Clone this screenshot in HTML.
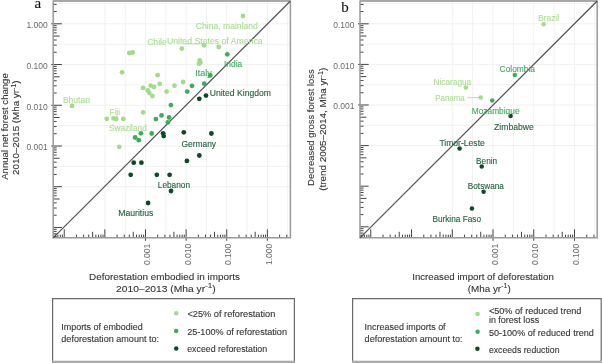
<!DOCTYPE html>
<html><head><meta charset="utf-8"><style>
html,body{margin:0;padding:0;background:#fff;width:602px;height:363px;overflow:hidden}
svg{display:block;will-change:transform}
text{font-family:"Liberation Sans",sans-serif}
.tl{font-size:8.4px;fill:#6a6a6a}
.lb{font-size:8.8px;stroke-width:0.12px}
.at{font-size:9.6px;fill:#333;stroke:#333;stroke-width:0.1px}
.lg{font-size:8.4px;fill:#333;stroke:#333;stroke-width:0.1px}
.pl{font-family:"Liberation Serif",serif;font-size:15px;fill:#111;stroke:#111;stroke-width:0.1px}
</style></head><body>
<svg width="602" height="363" viewBox="0 0 602 363">
<rect width="602" height="363" fill="#fff"/>
<path d="M104.87 1.00V237.80M125.19 1.00V237.80M145.50 1.00V237.80M165.81 1.00V237.80M186.13 1.00V237.80M206.44 1.00V237.80M226.76 1.00V237.80M247.07 1.00V237.80M267.39 1.00V237.80M287.71 1.00V237.80M53.20 186.73H290.40M53.20 166.37H290.40M53.20 146.00H290.40M53.20 125.64H290.40M53.20 105.27H290.40M53.20 84.91H290.40M53.20 64.54H290.40M53.20 44.18H290.40M53.20 23.81H290.40M53.20 3.45H290.40" stroke="#f1f1f1" stroke-width="1" fill="none"/>
<path d="M55.23 234.60V237.80M57.95 234.60V237.80M60.30 234.60V237.80M62.38 234.60V237.80M64.24 229.30V237.80M76.47 234.60V237.80M83.63 234.60V237.80M88.70 234.60V237.80M92.64 231.80V237.80M95.86 234.60V237.80M98.58 234.60V237.80M100.93 234.60V237.80M103.01 234.60V237.80M104.87 229.30V237.80M117.10 234.60V237.80M124.26 234.60V237.80M129.33 234.60V237.80M133.27 231.80V237.80M136.49 234.60V237.80M139.21 234.60V237.80M141.56 234.60V237.80M143.64 234.60V237.80M145.50 229.30V240.80M157.73 234.60V237.80M164.89 234.60V237.80M169.96 234.60V237.80M173.90 231.80V237.80M177.12 234.60V237.80M179.84 234.60V237.80M182.19 234.60V237.80M184.27 234.60V237.80M186.13 229.30V240.80M198.36 234.60V237.80M205.52 234.60V237.80M210.59 234.60V237.80M214.53 231.80V237.80M217.75 234.60V237.80M220.47 234.60V237.80M222.82 234.60V237.80M224.90 234.60V237.80M226.76 229.30V240.80M238.99 234.60V237.80M246.15 234.60V237.80M251.22 234.60V237.80M255.16 231.80V237.80M258.38 234.60V237.80M261.10 234.60V237.80M263.45 234.60V237.80M265.53 234.60V237.80M267.39 229.30V240.80M279.62 234.60V237.80M286.78 234.60V237.80M53.20 236.50H56.70M53.20 233.77H56.70M53.20 231.41H56.70M53.20 229.32H56.70M53.20 227.46H61.90M53.20 215.20H56.70M53.20 208.03H56.70M53.20 202.94H56.70M53.20 198.99H59.60M53.20 195.77H56.70M53.20 193.04H56.70M53.20 190.68H56.70M53.20 188.59H56.70M53.20 186.73H61.90M53.20 174.47H56.70M53.20 167.30H56.70M53.20 162.21H56.70M53.20 158.26H59.60M53.20 155.04H56.70M53.20 152.31H56.70M53.20 149.95H56.70M53.20 147.86H56.70M51.20 146.00H61.90M53.20 133.74H56.70M53.20 126.57H56.70M53.20 121.48H56.70M53.20 117.53H59.60M53.20 114.31H56.70M53.20 111.58H56.70M53.20 109.22H56.70M53.20 107.13H56.70M51.20 105.27H61.90M53.20 93.01H56.70M53.20 85.84H56.70M53.20 80.75H56.70M53.20 76.80H59.60M53.20 73.58H56.70M53.20 70.85H56.70M53.20 68.49H56.70M53.20 66.40H56.70M51.20 64.54H61.90M53.20 52.28H56.70M53.20 45.11H56.70M53.20 40.02H56.70M53.20 36.07H59.60M53.20 32.85H56.70M53.20 30.12H56.70M53.20 27.76H56.70M53.20 25.67H56.70M51.20 23.81H61.90M53.20 11.55H56.70M53.20 4.38H56.70" stroke="#444" stroke-width="1" fill="none"/>
<path d="M53.20 1.00H290.40" stroke="#a8a8a8" stroke-width="2" fill="none"/>
<path d="M53.20 0.50V237.80H290.40V0.50" stroke="#9a9a9a" stroke-width="1.5" fill="none"/>
<path d="M53.20 237.80L290.40 1.00" stroke="#505050" stroke-width="1.2" fill="none"/>
<text transform="translate(150.10,265) rotate(-90)" class="tl" textLength="21.3" lengthAdjust="spacingAndGlyphs">0.001</text>
<text transform="translate(190.73,265) rotate(-90)" class="tl" textLength="21.3" lengthAdjust="spacingAndGlyphs">0.010</text>
<text transform="translate(231.36,265) rotate(-90)" class="tl" textLength="21.3" lengthAdjust="spacingAndGlyphs">0.100</text>
<text transform="translate(271.99,265) rotate(-90)" class="tl" textLength="21.3" lengthAdjust="spacingAndGlyphs">1.000</text>
<text x="47.70" y="28.21" class="tl" text-anchor="end" textLength="21.3" lengthAdjust="spacingAndGlyphs">1.000</text>
<text x="47.70" y="68.94" class="tl" text-anchor="end" textLength="21.3" lengthAdjust="spacingAndGlyphs">0.100</text>
<text x="47.70" y="109.67" class="tl" text-anchor="end" textLength="21.3" lengthAdjust="spacingAndGlyphs">0.010</text>
<text x="47.70" y="150.40" class="tl" text-anchor="end" textLength="21.3" lengthAdjust="spacingAndGlyphs">0.001</text>
<path d="M452.25 1.00V237.80M472.62 1.00V237.80M493.00 1.00V237.80M513.38 1.00V237.80M533.75 1.00V237.80M554.12 1.00V237.80M574.50 1.00V237.80M594.88 1.00V237.80M360.00 145.60H597.20M360.00 125.30H597.20M360.00 105.00H597.20M360.00 84.70H597.20M360.00 64.40H597.20M360.00 44.10H597.20M360.00 23.80H597.20M360.00 3.50H597.20" stroke="#f1f1f1" stroke-width="1" fill="none"/>
<path d="M361.71 234.60V237.80M364.44 234.60V237.80M366.80 234.60V237.80M368.89 234.60V237.80M370.75 229.30V237.80M383.02 234.60V237.80M390.19 234.60V237.80M395.28 234.60V237.80M399.23 231.80V237.80M402.46 234.60V237.80M405.19 234.60V237.80M407.55 234.60V237.80M409.64 234.60V237.80M411.50 229.30V237.80M423.77 234.60V237.80M430.94 234.60V237.80M436.03 234.60V237.80M439.98 231.80V237.80M443.21 234.60V237.80M445.94 234.60V237.80M448.30 234.60V237.80M450.39 234.60V237.80M452.25 229.30V237.80M464.52 234.60V237.80M471.69 234.60V237.80M476.78 234.60V237.80M480.73 231.80V237.80M483.96 234.60V237.80M486.69 234.60V237.80M489.05 234.60V237.80M491.14 234.60V237.80M493.00 229.30V240.80M505.27 234.60V237.80M512.44 234.60V237.80M517.53 234.60V237.80M521.48 231.80V237.80M524.71 234.60V237.80M527.44 234.60V237.80M529.80 234.60V237.80M531.89 234.60V237.80M533.75 229.30V240.80M546.02 234.60V237.80M553.19 234.60V237.80M558.28 234.60V237.80M562.23 231.80V237.80M565.46 234.60V237.80M568.19 234.60V237.80M570.55 234.60V237.80M572.64 234.60V237.80M574.50 229.30V240.80M586.77 234.60V237.80M593.94 234.60V237.80M360.00 235.81H363.50M360.00 233.09H363.50M360.00 230.73H363.50M360.00 228.66H363.50M360.00 226.80H368.70M360.00 214.58H363.50M360.00 207.43H363.50M360.00 202.36H363.50M360.00 198.42H366.40M360.00 195.21H363.50M360.00 192.49H363.50M360.00 190.13H363.50M360.00 188.06H363.50M360.00 186.20H368.70M360.00 173.98H363.50M360.00 166.83H363.50M360.00 161.76H363.50M360.00 157.82H366.40M360.00 154.61H363.50M360.00 151.89H363.50M360.00 149.53H363.50M360.00 147.46H363.50M360.00 145.60H368.70M360.00 133.38H363.50M360.00 126.23H363.50M360.00 121.16H363.50M360.00 117.22H366.40M360.00 114.01H363.50M360.00 111.29H363.50M360.00 108.93H363.50M360.00 106.86H363.50M358.00 105.00H368.70M360.00 92.78H363.50M360.00 85.63H363.50M360.00 80.56H363.50M360.00 76.62H366.40M360.00 73.41H363.50M360.00 70.69H363.50M360.00 68.33H363.50M360.00 66.26H363.50M358.00 64.40H368.70M360.00 52.18H363.50M360.00 45.03H363.50M360.00 39.96H363.50M360.00 36.02H366.40M360.00 32.81H363.50M360.00 30.09H363.50M360.00 27.73H363.50M360.00 25.66H363.50M358.00 23.80H368.70M360.00 11.58H363.50M360.00 4.43H363.50" stroke="#444" stroke-width="1" fill="none"/>
<path d="M360.00 1.00H597.20" stroke="#a8a8a8" stroke-width="2" fill="none"/>
<path d="M360.00 0.50V237.80H597.20V0.50" stroke="#9a9a9a" stroke-width="1.5" fill="none"/>
<path d="M360.00 237.80L597.20 1.00" stroke="#505050" stroke-width="1.2" fill="none"/>
<text transform="translate(497.60,265) rotate(-90)" class="tl" textLength="21.3" lengthAdjust="spacingAndGlyphs">0.001</text>
<text transform="translate(538.35,265) rotate(-90)" class="tl" textLength="21.3" lengthAdjust="spacingAndGlyphs">0.010</text>
<text transform="translate(579.10,265) rotate(-90)" class="tl" textLength="21.3" lengthAdjust="spacingAndGlyphs">0.100</text>
<text x="354.50" y="28.20" class="tl" text-anchor="end" textLength="21.3" lengthAdjust="spacingAndGlyphs">0.100</text>
<text x="354.50" y="68.80" class="tl" text-anchor="end" textLength="21.3" lengthAdjust="spacingAndGlyphs">0.010</text>
<text x="354.50" y="109.40" class="tl" text-anchor="end" textLength="21.3" lengthAdjust="spacingAndGlyphs">0.001</text>
<text x="34.6" y="7.8" class="pl">a</text>
<text x="341.2" y="12.4" class="pl">b</text>
<g fill="#a3da8c"><circle cx="243" cy="16" r="2.4"/><circle cx="122.1" cy="72.3" r="2.4"/><circle cx="129.3" cy="53.0" r="2.4"/><circle cx="132.6" cy="52.5" r="2.4"/><circle cx="157.6" cy="75.2" r="2.4"/><circle cx="181.8" cy="48.6" r="2.4"/><circle cx="204.1" cy="45.3" r="2.4"/><circle cx="218.7" cy="47.0" r="2.4"/><circle cx="199.7" cy="60.4" r="2.4"/><circle cx="200.4" cy="62.6" r="2.4"/><circle cx="199.0" cy="63.7" r="2.4"/><circle cx="183.1" cy="82.0" r="2.4"/><circle cx="174.5" cy="85.7" r="2.4"/><circle cx="159.7" cy="83.8" r="2.4"/><circle cx="143.1" cy="87.9" r="2.4"/><circle cx="150.7" cy="85.6" r="2.4"/><circle cx="154.0" cy="87.0" r="2.4"/><circle cx="147.8" cy="90.5" r="2.4"/><circle cx="149.3" cy="93.1" r="2.4"/><circle cx="152.4" cy="96.0" r="2.4"/><circle cx="166.6" cy="91.6" r="2.4"/><circle cx="72" cy="105.9" r="2.4"/><circle cx="106.8" cy="118.8" r="2.4"/><circle cx="113.5" cy="118.3" r="2.4"/><circle cx="116.2" cy="119.0" r="2.4"/><circle cx="123.3" cy="118.9" r="2.4"/><circle cx="143.1" cy="112.4" r="2.4"/><circle cx="119.3" cy="146.8" r="2.4"/></g>
<g fill="#41ab5d"><circle cx="227.3" cy="54.3" r="2.4"/><circle cx="210.3" cy="75.4" r="2.4"/><circle cx="192.0" cy="85.8" r="2.4"/><circle cx="204.2" cy="83.7" r="2.4"/><circle cx="187.2" cy="91.6" r="2.4"/><circle cx="170.9" cy="105.1" r="2.4"/><circle cx="155.9" cy="119.1" r="2.4"/><circle cx="161.5" cy="115.4" r="2.4"/><circle cx="169.1" cy="117.5" r="2.4"/><circle cx="167.9" cy="122.4" r="2.4"/><circle cx="140.9" cy="133.3" r="2.4"/><circle cx="151.7" cy="133.5" r="2.4"/><circle cx="135.1" cy="137.5" r="2.4"/><circle cx="138.8" cy="140.2" r="2.4"/></g>
<g fill="#0b4a25"><circle cx="206.0" cy="95.6" r="2.4"/><circle cx="199.3" cy="98.8" r="2.4"/><circle cx="163.1" cy="133.3" r="2.4"/><circle cx="163.7" cy="136.1" r="2.4"/><circle cx="183.8" cy="132.3" r="2.4"/><circle cx="211.4" cy="133.5" r="2.4"/><circle cx="199.3" cy="155.5" r="2.4"/><circle cx="186.9" cy="160.9" r="2.4"/><circle cx="133.7" cy="162.7" r="2.4"/><circle cx="141.4" cy="162.7" r="2.4"/><circle cx="130.7" cy="174.8" r="2.4"/><circle cx="156.8" cy="174.8" r="2.4"/><circle cx="169.6" cy="174.8" r="2.4"/><circle cx="171.0" cy="191.0" r="2.4"/><circle cx="148.1" cy="203.0" r="2.4"/></g>
<path d="M185 43.8H204" stroke="#a3da8c" stroke-width="0.8"/>
<text x="195.8" y="28.9" class="lb" fill="#acdc95" stroke="#acdc95" textLength="62.1" lengthAdjust="spacingAndGlyphs">China, mainland</text>
<text x="147.2" y="44.6" class="lb" fill="#acdc95" stroke="#acdc95" textLength="19.5" lengthAdjust="spacingAndGlyphs">Chile</text>
<text x="166.9" y="43.6" class="lb" fill="#acdc95" stroke="#acdc95" textLength="95.7" lengthAdjust="spacingAndGlyphs">United States of America</text>
<text x="62.9" y="102.6" class="lb" fill="#acdc95" stroke="#acdc95" textLength="27" lengthAdjust="spacingAndGlyphs">Bhutan</text>
<text x="109.4" y="115" class="lb" fill="#acdc95" stroke="#acdc95" textLength="10.7" lengthAdjust="spacingAndGlyphs">Fiji</text>
<text x="109.0" y="130.8" class="lb" fill="#acdc95" stroke="#acdc95" textLength="37.8" lengthAdjust="spacingAndGlyphs">Swaziland</text>
<text x="195.2" y="75.8" class="lb" fill="#41ab5d" stroke="#41ab5d" textLength="16.6" lengthAdjust="spacingAndGlyphs">Italy</text>
<text x="224.0" y="67" class="lb" fill="#41ab5d" stroke="#41ab5d" textLength="18.2" lengthAdjust="spacingAndGlyphs">India</text>
<text x="209.7" y="95.7" class="lb" fill="#215e3c" stroke="#215e3c" textLength="61.3" lengthAdjust="spacingAndGlyphs">United Kingdom</text>
<text x="181.4" y="146.9" class="lb" fill="#215e3c" stroke="#215e3c" textLength="34.7" lengthAdjust="spacingAndGlyphs">Germany</text>
<text x="157.8" y="187.9" class="lb" fill="#215e3c" stroke="#215e3c" textLength="32.2" lengthAdjust="spacingAndGlyphs">Lebanon</text>
<text x="118.2" y="215.7" class="lb" fill="#215e3c" stroke="#215e3c" textLength="35.1" lengthAdjust="spacingAndGlyphs">Mauritius</text>
<g fill="#a3da8c"><circle cx="543.7" cy="24.3" r="2.25"/><circle cx="465.9" cy="87.5" r="2.25"/><circle cx="480.8" cy="97.6" r="2.25"/></g>
<g fill="#41ab5d"><circle cx="514.8" cy="75.0" r="2.25"/><circle cx="492.2" cy="100.6" r="2.25"/></g>
<g fill="#0b4a25"><circle cx="510.6" cy="115.9" r="2.25"/><circle cx="459.6" cy="148.6" r="2.25"/><circle cx="481.7" cy="166.5" r="2.25"/><circle cx="483.6" cy="191.7" r="2.25"/><circle cx="471.9" cy="208.5" r="2.25"/></g>
<path d="M467.5 97.6H480" stroke="#a3da8c" stroke-width="0.8"/>
<text x="538.2" y="21.4" class="lb" fill="#acdc95" stroke="#acdc95" textLength="20.9" lengthAdjust="spacingAndGlyphs">Brazil</text>
<text x="433.5" y="85.4" class="lb" fill="#acdc95" stroke="#acdc95" textLength="37.7" lengthAdjust="spacingAndGlyphs">Nicaragua</text>
<text x="435.2" y="100.6" class="lb" fill="#acdc95" stroke="#acdc95" textLength="29.6" lengthAdjust="spacingAndGlyphs">Panama</text>
<text x="499.6" y="72.4" class="lb" fill="#41ab5d" stroke="#41ab5d" textLength="35.4" lengthAdjust="spacingAndGlyphs">Colombia</text>
<text x="471.7" y="113.5" class="lb" fill="#41ab5d" stroke="#41ab5d" textLength="47.9" lengthAdjust="spacingAndGlyphs">Mozambique</text>
<text x="494.1" y="129.8" class="lb" fill="#215e3c" stroke="#215e3c" textLength="39.7" lengthAdjust="spacingAndGlyphs">Zimbabwe</text>
<text x="439.4" y="146.4" class="lb" fill="#215e3c" stroke="#215e3c" textLength="45.4" lengthAdjust="spacingAndGlyphs">Timor-Leste</text>
<text x="476.1" y="163.7" class="lb" fill="#215e3c" stroke="#215e3c" textLength="21.0" lengthAdjust="spacingAndGlyphs">Benin</text>
<text x="467.8" y="189.1" class="lb" fill="#215e3c" stroke="#215e3c" textLength="36.1" lengthAdjust="spacingAndGlyphs">Botswana</text>
<text x="432.4" y="221.7" class="lb" fill="#215e3c" stroke="#215e3c" textLength="48.6" lengthAdjust="spacingAndGlyphs">Burkina Faso</text>
<text x="89" y="280.2" class="at" textLength="151" lengthAdjust="spacingAndGlyphs">Deforestation embodied in imports</text>
<text x="116.1" y="291.9" class="at" textLength="99.7" lengthAdjust="spacingAndGlyphs">2010–2013 (Mha yr<tspan dy="-3.8" font-size="7.6">-1</tspan><tspan dy="3.8">)</tspan></text>
<text x="412.2" y="280.2" class="at" textLength="141.6" lengthAdjust="spacingAndGlyphs">Increased import of deforestation</text>
<text x="467.8" y="291.9" class="at" textLength="43" lengthAdjust="spacingAndGlyphs">(Mha yr<tspan dy="-3.6" font-size="7">-1</tspan><tspan dy="3.6">)</tspan></text>
<text transform="translate(7.5,179.8) rotate(-90)" class="at" textLength="106.6" lengthAdjust="spacingAndGlyphs">Annual net forest change</text>
<text transform="translate(19.3,174.9) rotate(-90)" class="at" textLength="94.5" lengthAdjust="spacingAndGlyphs">2010–2015 (Mha yr<tspan dy="-3.6" font-size="7">-1</tspan><tspan dy="3.6">)</tspan></text>
<text transform="translate(314.3,185.9) rotate(-90)" class="at" textLength="116.6" lengthAdjust="spacingAndGlyphs">Decreased gross forest loss</text>
<text transform="translate(326.4,190.8) rotate(-90)" class="at" textLength="123.1" lengthAdjust="spacingAndGlyphs">(trend 2005–2014, Mha yr<tspan dy="-3.6" font-size="7">-1</tspan><tspan dy="3.6">)</tspan></text>
<path d="M52.6 361.5V298.6H294.4V361.5M352.6 361.5V298.6H601.2V361.5" fill="none" stroke="#6a6a6a" stroke-width="1.2"/>
<rect x="52" y="360.7" width="243" height="2.3" fill="#ababab"/><rect x="352" y="360.7" width="250" height="2.3" fill="#ababab"/>
<text x="61.3" y="329.6" class="lg" textLength="81.4" lengthAdjust="spacingAndGlyphs">Imports of embodied</text>
<text x="61.3" y="341.6" class="lg" textLength="97.8" lengthAdjust="spacingAndGlyphs">deforestation amount to:</text>
<g fill="#a3da8c"><circle cx="176.2" cy="313.3" r="2.25"/></g>
<g fill="#41ab5d"><circle cx="176.2" cy="330.9" r="2.25"/></g>
<g fill="#0b4a25"><circle cx="176.2" cy="348.4" r="2.25"/></g>
<text x="187.4" y="317.4" class="lg" textLength="88" lengthAdjust="spacingAndGlyphs">&lt;25% of reforestation</text>
<text x="187.2" y="335.0" class="lg" textLength="99.8" lengthAdjust="spacingAndGlyphs">25-100% of reforestation</text>
<text x="187.2" y="351.9" class="lg" textLength="80" lengthAdjust="spacingAndGlyphs">exceed reforestation</text>
<text x="364.6" y="330.3" class="lg" textLength="81" lengthAdjust="spacingAndGlyphs">Increased imports of</text>
<text x="364.6" y="342.3" class="lg" textLength="98" lengthAdjust="spacingAndGlyphs">deforestation amount to:</text>
<g fill="#a3da8c"><circle cx="477.6" cy="313.9" r="2.25"/></g>
<g fill="#41ab5d"><circle cx="477.6" cy="331.8" r="2.25"/></g>
<g fill="#0b4a25"><circle cx="477.4" cy="348.8" r="2.25"/></g>
<text x="488.9" y="313.5" class="lg" textLength="92.5" lengthAdjust="spacingAndGlyphs">&lt;50% of reduced trend</text>
<text x="488.9" y="323.1" class="lg" textLength="50.3" lengthAdjust="spacingAndGlyphs">in forest loss</text>
<text x="488.9" y="336.4" class="lg" textLength="105" lengthAdjust="spacingAndGlyphs">50-100% of reduced trend</text>
<text x="488.9" y="353.4" class="lg" textLength="70.6" lengthAdjust="spacingAndGlyphs">exceeds reduction</text>
</svg></body></html>
